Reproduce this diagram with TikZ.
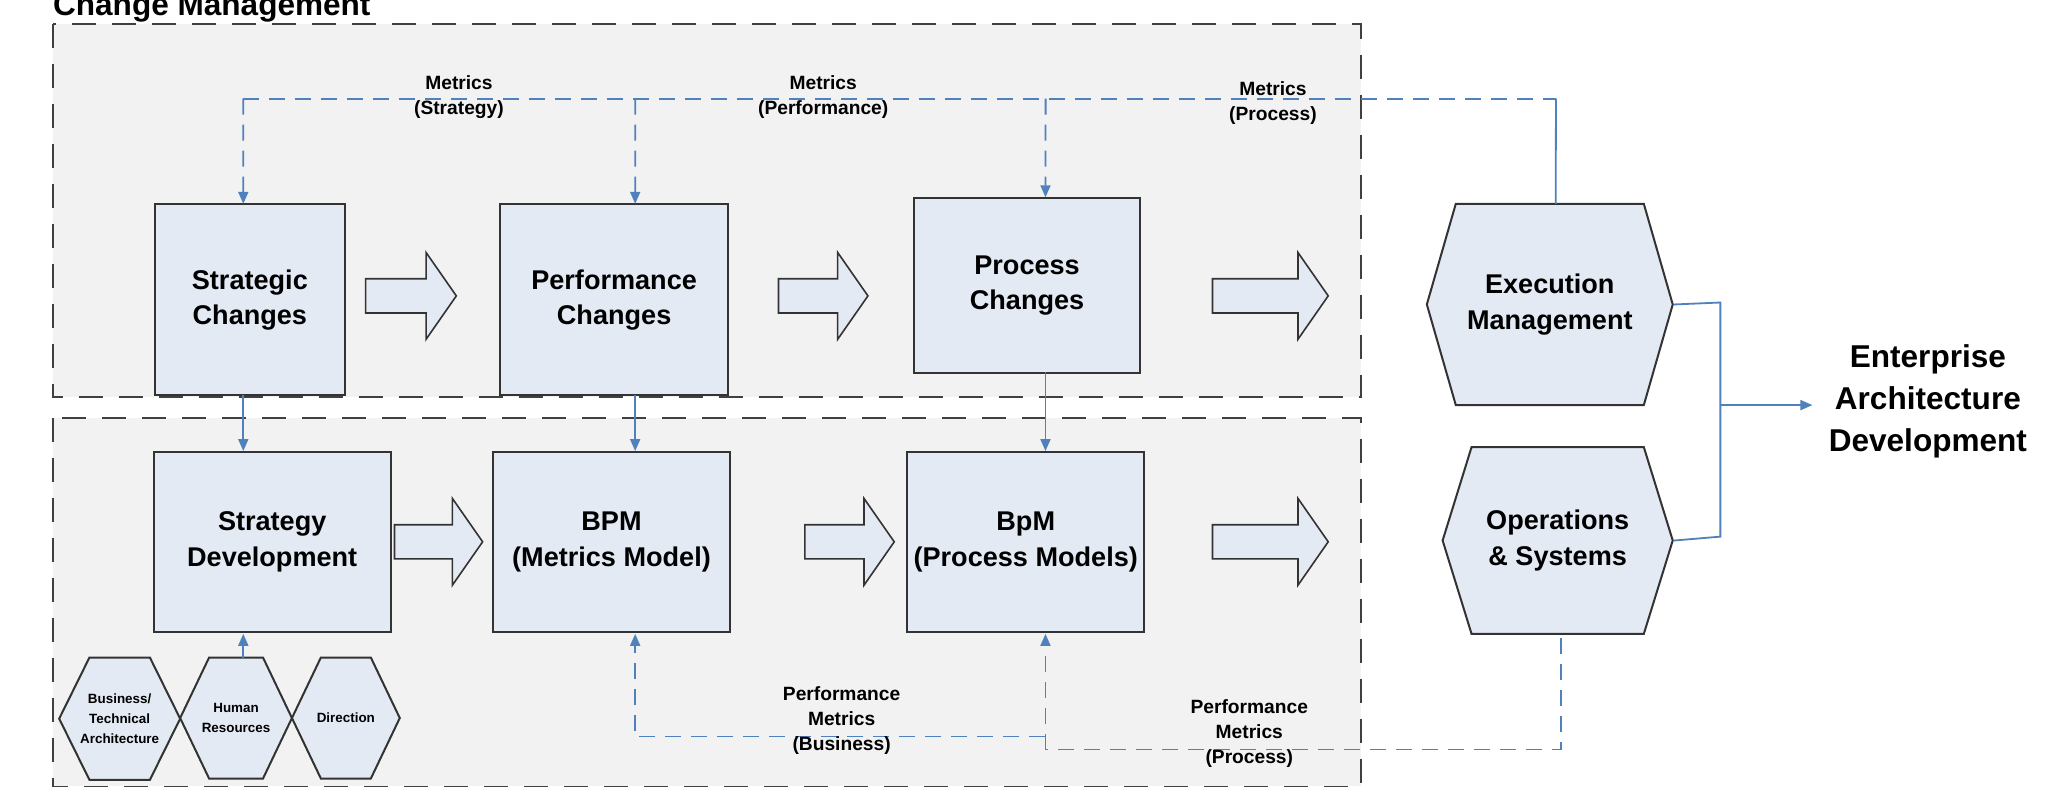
\documentclass[tikz,border=0pt]{standalone}
\usepackage{fontspec}
\setmainfont{Liberation Sans}
\usetikzlibrary{arrows.meta}
\definecolor{bg}{HTML}{F2F2F2}
\definecolor{boxf}{HTML}{E4EAF4}
\definecolor{ln}{HTML}{4F81BD}
\tikzset{
 box/.style={draw=black!80,fill=boxf,line width=1pt,align=center,font=\bfseries\fontsize{10.3}{13.5}\selectfont,inner sep=0pt},
 lbl/.style={align=center,font=\bfseries\fontsize{7.3}{9.5}\selectfont,inner sep=1pt},
 region/.style={draw=black!75,fill=bg,dash pattern=on 12pt off 8pt,line width=0.9pt},
 blk/.style={draw=black!80,fill=boxf,line width=0.8pt},
 conn/.style={draw=ln,line width=0.9pt},
 dconn/.style={draw=ln,line width=0.9pt,dash pattern=on 8pt off 5pt},
 tip/.style={-{Triangle[length=6pt,width=5pt]}},
}
\newcommand{\blockarrow}[3]{%
 \draw[blk] (#1,#3-13)--(#2-23,#3-13)--(#2-23,#3-33)--(#2,#3)--(#2-23,#3+33)--(#2-23,#3+13)--(#1,#3+13)--cycle;}
\newcommand{\hexnode}[8]{%
 \draw[blk,line width=1pt] (#2,{(#3+#5)/2})--(#2+#6,#3)--(#4-#6,#3)--(#4,{(#3+#5)/2})--(#4-#6,#5)--(#2+#6,#5)--cycle;%
 \node[inner sep=0pt,minimum width={(#4-#2)*0.5pt},minimum height={(#5-#3)*0.5pt},align=center,font=#7] (#1) at ({(#2+#4)/2},{(#3+#5)/2}) {#8};}
\begin{document}
\begin{tikzpicture}[x=0.5pt,y=-0.5pt,scale=1.315,transform shape]
\path[use as bounding box,fill=white] (0,0) rectangle (1568,601.5);
\node[anchor=base west,font=\bfseries\fontsize{12}{14}\selectfont,inner sep=0pt] (title) at (40,12) {Change Management};
\path[region] (40,18) rectangle (1035,302);
\path[region] (40,318) rectangle (1035,598);
\node[box,minimum width=72.5pt,minimum height=72.5pt] (sc) at (190,228) {Strategic\\Changes};
\node[box,minimum width=86.5pt,minimum height=72.5pt] (pc) at (467,228) {Performance\\Changes};
\node[box,minimum width=86pt,minimum height=66.5pt] (prc) at (781,217) {Process\\Changes};
\node[box,minimum width=90pt,minimum height=68.5pt] (sd) at (207,412) {Strategy\\Development};
\node[box,minimum width=90pt,minimum height=68.5pt] (bpm) at (465,412) {BPM\\(Metrics Model)};
\node[box,minimum width=90pt,minimum height=68.5pt] (bpm2) at (780,412) {BpM\\(Process Models)};
\blockarrow{278}{347}{225}
\blockarrow{592}{660}{225}
\blockarrow{922}{1010}{225}
\blockarrow{300}{367}{412}
\blockarrow{612}{680}{412}
\blockarrow{922}{1010}{412}
\hexnode{em}{1085}{155}{1272}{308}{22}{\bfseries\fontsize{10.3}{13.5}\selectfont}{Execution\\Management}
\hexnode{os}{1097}{340}{1272}{482}{22}{\bfseries\fontsize{10.3}{13.5}\selectfont}{Operations\\\& Systems}
\hexnode{bta}{45}{500}{137}{593}{23}{\bfseries\fontsize{5.1}{7.5}\selectfont}{Business/\\Technical\\Architecture}
\hexnode{hr}{137}{500}{222}{592}{22}{\bfseries\fontsize{5.1}{7.5}\selectfont}{Human\\Resources}
\hexnode{dir}{222}{500}{304}{592}{22}{\bfseries\fontsize{5.1}{7.5}\selectfont}{Direction}
\node[align=center,font=\bfseries\fontsize{12}{16}\selectfont,inner sep=0pt] (ead) at (1466,305) {Enterprise\\Architecture\\Development};
\coordinate (mL) at (185,75);
\coordinate (mR) at (1183,75);
\coordinate (mP) at (483,75);
\coordinate (mQ) at (795,75);
\draw[dconn] (mL)--(mR);
\draw[conn] (mR)--(1183,155);
\draw[dconn,tip] (mL)--(185,155);
\draw[dconn,tip] (mP)--(483,155);
\draw[dconn,tip] (mQ)--(795,150);
\node[lbl] (m1) at (349,74) {Metrics\\(Strategy)};
\node[lbl] (m2) at (626,74) {Metrics\\(Performance)};
\node[lbl] (m3) at (968,78) {Metrics\\(Process)};
\draw[conn,tip] (185,300)--(185,343);
\draw[conn,tip] (483,300)--(483,343);
\draw[conn,tip] (795,283)--(795,343);
\draw[conn,tip] (185,500)--(185,482);
\coordinate (j1) at (1308,230);
\coordinate (j2) at (1308,408);
\coordinate (j3) at (1308,308);
\coordinate (eaw) at (1378,308);
\draw[conn] (em.east) -- (j1) -- (j2) -- (os.east);
\draw[conn,tip] (j3) -- (eaw);
\draw[dconn,tip] (795,560)--(483,560)--(483,482);
\draw[dconn,tip] (795,570)--(795,482);
\draw[dconn] (795,560)--(795,570)--(1187,570)--(1187,482);
\node[lbl] (pm1) at (640,548) {Performance\\Metrics\\(Business)};
\node[lbl] (pm2) at (950,558) {Performance\\Metrics\\(Process)};
\end{tikzpicture}
\end{document}
